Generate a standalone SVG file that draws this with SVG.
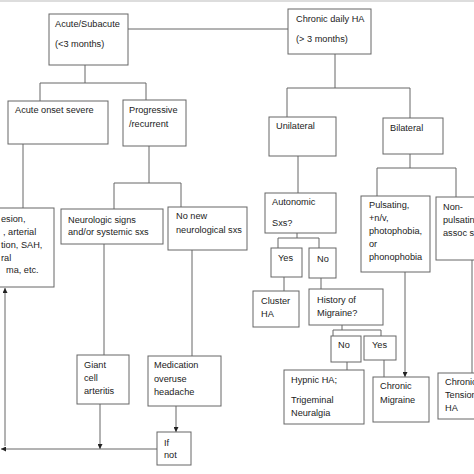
<svg xmlns="http://www.w3.org/2000/svg" width="474" height="474" viewBox="0 0 474 474">
<style>
.b{fill:#fff;stroke:#666;stroke-width:1}
.l{fill:none;stroke:#666;stroke-width:1}
text{font-family:"Liberation Sans",Arial,sans-serif;font-size:9.2px;fill:#222}
</style>
<defs>
<marker id="ar" viewBox="0 0 10 10" refX="10" refY="5" markerWidth="5" markerHeight="5" orient="auto" markerUnits="userSpaceOnUse">
<path d="M0,0 L10,5 L0,10 z" fill="#222"/>
</marker>
</defs>
<rect x="0" y="0" width="474" height="474" fill="#fff"/>
<rect x="0" y="0" width="474" height="2" fill="#ddd"/>
<g id="connectors">
<path class="l" d="M128,29 H288"/>
<path class="l" d="M85,65 V83 M40,83 H146 M40,83 V101 M146,83 V100"/>
<path class="l" d="M23,144 V208"/>
<path class="l" d="M149,146 V183 M114,183 H181 M114,183 V209 M181,183 V207"/>
<path class="l" d="M104,244 V355"/>
<path class="l" d="M192,250 V356"/>
<path class="l" d="M176,406 V432" marker-end="url(#ar)"/>
<path class="l" d="M100,404 V449" marker-end="url(#ar)"/>
<path class="l" d="M157,449 H1" marker-end="url(#ar)"/>
<path class="l" d="M5,446 V288" marker-end="url(#ar)"/>
<path class="l" d="M335,54 V88 M287,88 H410 M287,88 V117 M410,88 V118"/>
<path class="l" d="M298,156 V193"/>
<path class="l" d="M297,233 V238 M278,238 H319 M278,238 V248 M319,238 V248"/>
<path class="l" d="M284,277 V291"/>
<path class="l" d="M321,278 V289"/>
<path class="l" d="M410,154 V168 M377,168 H456 M377,168 V196 M456,168 V197"/>
<path class="l" d="M342,325 V330 M333,330 H381 M333,330 V336 M381,330 V336"/>
<path class="l" d="M347,362 V370"/>
<path class="l" d="M384,360 V377"/>
<path class="l" d="M405,272 V377" marker-end="url(#ar)"/>
<path class="l" d="M472,260 V373"/>
</g>
<g id="acute">
<rect class="b" x="49" y="14" width="79" height="51"/>
<text x="55" y="27">Acute/Subacute</text>
<text x="55" y="47">(&lt;3 months)</text>
</g>
<g id="chronic">
<rect class="b" x="288" y="9" width="83" height="45"/>
<text x="296" y="22">Chronic daily HA</text>
<text x="296" y="42">(&gt; 3 months)</text>
</g>
<g id="acuteonset">
<rect class="b" x="8" y="101" width="100" height="43"/>
<text x="15" y="113">Acute onset severe</text>
</g>
<g id="progressive">
<rect class="b" x="123" y="100" width="63" height="46"/>
<text x="129" y="113">Progressive</text>
<text x="129" y="127">/recurrent</text>
</g>
<g id="lesion">
<rect class="b" x="-10" y="208" width="64" height="79"/>
<text x="1" y="222">esion,</text>
<text x="3" y="235">, arterial</text>
<text x="1" y="248">tion, SAH,</text>
<text x="1" y="261">ral</text>
<text x="6" y="273">ma, etc.</text>
</g>
<g id="neuro">
<rect class="b" x="61" y="209" width="102" height="35"/>
<text x="68" y="223">Neurologic signs</text>
<text x="68" y="235">and/or systemic sxs</text>
</g>
<g id="nonew">
<rect class="b" x="168" y="207" width="79" height="43"/>
<text x="176" y="219">No new</text>
<text x="176" y="233">neurological sxs</text>
</g>
<g id="giant">
<rect class="b" x="77" y="355" width="52" height="49"/>
<text x="84" y="368">Giant</text>
<text x="84" y="381">cell</text>
<text x="84" y="394">arteritis</text>
</g>
<g id="medication">
<rect class="b" x="148" y="356" width="73" height="50"/>
<text x="154" y="368">Medication</text>
<text x="154" y="382">overuse</text>
<text x="154" y="395">headache</text>
</g>
<g id="ifnot">
<rect class="b" x="157" y="432" width="34" height="33"/>
<text x="164" y="446">If</text>
<text x="164" y="458">not</text>
</g>
<g id="unilateral">
<rect class="b" x="269" y="117" width="67" height="39"/>
<text x="276" y="129">Unilateral</text>
</g>
<g id="bilateral">
<rect class="b" x="383" y="118" width="60" height="36"/>
<text x="390" y="131">Bilateral</text>
</g>
<g id="autonomic">
<rect class="b" x="265" y="193" width="71" height="40"/>
<text x="272" y="205">Autonomic</text>
<text x="272" y="226">Sxs?</text>
</g>
<g id="yes1">
<rect class="b" x="271" y="248" width="31" height="29"/>
<text x="278" y="261">Yes</text>
</g>
<g id="no1">
<rect class="b" x="309" y="248" width="27" height="30"/>
<text x="317" y="262">No</text>
</g>
<g id="cluster">
<rect class="b" x="253" y="291" width="46" height="36"/>
<text x="261" y="304">Cluster</text>
<text x="261" y="317">HA</text>
</g>
<g id="history">
<rect class="b" x="309" y="289" width="74" height="36"/>
<text x="317" y="303">History of</text>
<text x="317" y="316">Migraine?</text>
</g>
<g id="no2">
<rect class="b" x="331" y="336" width="30" height="26"/>
<text x="338" y="348">No</text>
</g>
<g id="yes2">
<rect class="b" x="364" y="336" width="32" height="24"/>
<text x="372" y="348">Yes</text>
</g>
<g id="hypnic">
<rect class="b" x="284" y="370" width="80" height="54"/>
<text x="291" y="383">Hypnic HA;</text>
<text x="291" y="403">Trigeminal</text>
<text x="291" y="416">Neuralgia</text>
</g>
<g id="pulsating">
<rect class="b" x="361" y="196" width="69" height="76"/>
<text x="369" y="208">Pulsating,</text>
<text x="369" y="221">+n/v,</text>
<text x="369" y="234">photophobia,</text>
<text x="369" y="247">or</text>
<text x="369" y="260">phonophobia</text>
</g>
<g id="nonpulsating">
<rect class="b" x="436" y="197" width="50" height="63"/>
<text x="443" y="210">Non-</text>
<text x="443" y="223">pulsating</text>
<text x="443" y="236">assoc sxs</text>
</g>
<g id="chronicmigraine">
<rect class="b" x="373" y="377" width="56" height="45"/>
<text x="380" y="389">Chronic</text>
<text x="380" y="403">Migraine</text>
</g>
<g id="tension">
<rect class="b" x="438" y="373" width="50" height="46"/>
<text x="445" y="385">Chronic</text>
<text x="445" y="398">Tension</text>
<text x="445" y="411">HA</text>
</g>
</svg>
